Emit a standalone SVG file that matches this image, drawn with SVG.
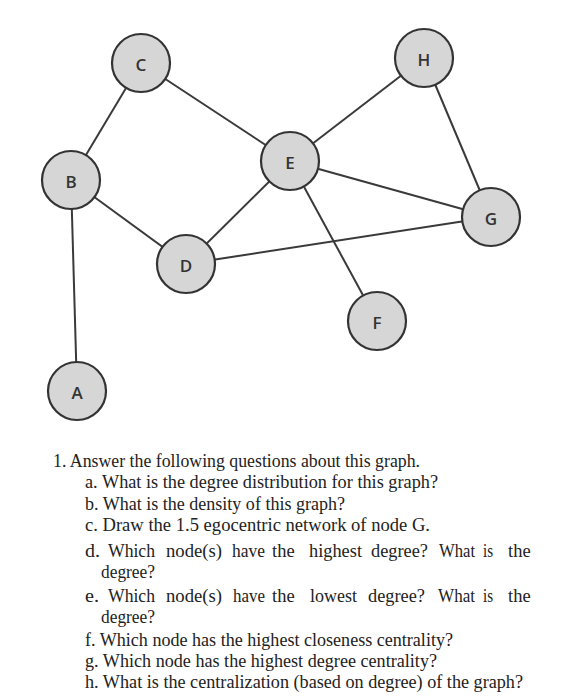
<svg xmlns="http://www.w3.org/2000/svg" width="562" height="700" viewBox="0 0 562 700">
<style>
.edge{stroke:#3a3a3a;stroke-width:2;fill:none}
.node circle{fill:#d6d6d6;stroke:#333;stroke-width:2.2}
.node text{font-family:"Open Sans","Liberation Sans",Arial,sans-serif;font-size:17px;font-weight:600;fill:#333;text-anchor:middle;dominant-baseline:central}
.q{font-family:"Liberation Serif","Times New Roman",serif;font-size:18.5px;fill:#222}
</style>
<rect width="562" height="700" fill="#fff"/>
<g id="connectors">
<line class="edge" x1="71" y1="180" x2="141" y2="63"/>
<line class="edge" x1="141" y1="63" x2="290" y2="161"/>
<line class="edge" x1="71" y1="180" x2="186" y2="264"/>
<line class="edge" x1="71" y1="180" x2="77" y2="391"/>
<line class="edge" x1="186" y1="264" x2="290" y2="161"/>
<line class="edge" x1="186" y1="264" x2="491" y2="217"/>
<line class="edge" x1="290" y1="161" x2="424" y2="58"/>
<line class="edge" x1="290" y1="161" x2="491" y2="217"/>
<line class="edge" x1="290" y1="161" x2="377" y2="321"/>
<line class="edge" x1="424" y1="58" x2="491" y2="217"/>
</g>
<g id="node-C" class="node"><circle cx="141" cy="63" r="29"/><text x="141" y="64">C</text></g>
<g id="node-B" class="node"><circle cx="71" cy="180" r="29"/><text x="71" y="181">B</text></g>
<g id="node-A" class="node"><circle cx="77" cy="391" r="29"/><text x="77" y="392">A</text></g>
<g id="node-E" class="node"><circle cx="290" cy="161" r="29"/><text x="290" y="162">E</text></g>
<g id="node-H" class="node"><circle cx="424" cy="58" r="29"/><text x="424" y="59">H</text></g>
<g id="node-G" class="node"><circle cx="491" cy="217" r="29"/><text x="491" y="218">G</text></g>
<g id="node-D" class="node"><circle cx="186" cy="264" r="29"/><text x="186" y="265">D</text></g>
<g id="node-F" class="node"><circle cx="377" cy="321" r="29"/><text x="377" y="322">F</text></g>
<g id="questions">
<text class="q" x="53" y="467" textLength="367" lengthAdjust="spacingAndGlyphs">1. Answer the following questions about this graph.</text>
<text class="q" x="85" y="488" textLength="353" lengthAdjust="spacingAndGlyphs">a. What is the degree distribution for this graph?</text>
<text class="q" x="85" y="510" textLength="260" lengthAdjust="spacingAndGlyphs">b. What is the density of this graph?</text>
<text class="q" x="85" y="531" textLength="345" lengthAdjust="spacingAndGlyphs">c. Draw the 1.5 egocentric network of node G.</text>
<text class="q" y="557"><tspan x="85" textLength="15" lengthAdjust="spacingAndGlyphs">d.</tspan><tspan x="108" textLength="47" lengthAdjust="spacingAndGlyphs">Which</tspan><tspan x="166" textLength="56" lengthAdjust="spacingAndGlyphs">node(s)</tspan><tspan x="232" textLength="33" lengthAdjust="spacingAndGlyphs">have</tspan><tspan x="272">the</tspan><tspan x="309" textLength="53" lengthAdjust="spacingAndGlyphs">highest</tspan><tspan x="371" textLength="57" lengthAdjust="spacingAndGlyphs">degree?</tspan><tspan x="439" textLength="36" lengthAdjust="spacingAndGlyphs">What</tspan><tspan x="483" textLength="10" lengthAdjust="spacingAndGlyphs">is</tspan><tspan x="508">the</tspan></text>
<text class="q" x="101" y="578" textLength="54" lengthAdjust="spacingAndGlyphs">degree?</text>
<text class="q" y="602"><tspan x="85" textLength="14" lengthAdjust="spacingAndGlyphs">e.</tspan><tspan x="108" textLength="47" lengthAdjust="spacingAndGlyphs">Which</tspan><tspan x="166" textLength="56" lengthAdjust="spacingAndGlyphs">node(s)</tspan><tspan x="233" textLength="32" lengthAdjust="spacingAndGlyphs">have</tspan><tspan x="272">the</tspan><tspan x="310" textLength="47" lengthAdjust="spacingAndGlyphs">lowest</tspan><tspan x="368" textLength="57" lengthAdjust="spacingAndGlyphs">degree?</tspan><tspan x="438" textLength="37" lengthAdjust="spacingAndGlyphs">What</tspan><tspan x="483" textLength="10" lengthAdjust="spacingAndGlyphs">is</tspan><tspan x="508">the</tspan></text>
<text class="q" x="101" y="623" textLength="54" lengthAdjust="spacingAndGlyphs">degree?</text>
<text class="q" x="85" y="646" textLength="368" lengthAdjust="spacingAndGlyphs">f. Which node has the highest closeness centrality?</text>
<text class="q" x="85" y="667" textLength="352" lengthAdjust="spacingAndGlyphs">g. Which node has the highest degree centrality?</text>
<text class="q" x="85" y="688" textLength="438" lengthAdjust="spacingAndGlyphs">h. What is the centralization (based on degree) of the graph?</text>
</g>
</svg>
